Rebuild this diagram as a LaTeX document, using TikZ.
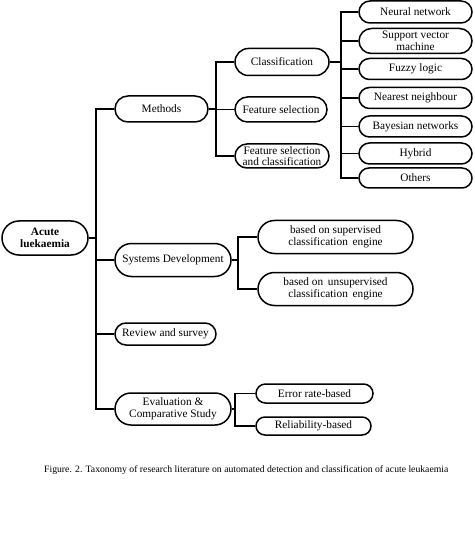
\documentclass[tikz,border=0pt]{standalone}
\usepackage{fontspec}
\setmainfont{Liberation Serif}
\usetikzlibrary{shapes.misc}

\begin{document}
\begin{tikzpicture}[
                x=1pt, y=-1pt,
                box/.style={draw=black, line width=1.5pt, rounded rectangle, inner sep=0pt,
                    align=center, font=\fontsize{11.3}{11.5}\selectfont},
                link/.style={line width=1.5pt} ]

            \useasboundingbox (0,0) rectangle (474,534);

            % root and first level
            \node[box, minimum width=86pt, minimum height=34pt, font=\fontsize{11.3}{11.5}\selectfont\bfseries]
                (root) at (45,238) {Acute\\luekaemia};
            \node[box, minimum width=93pt, minimum height=26pt] (meth) at (161.5,109) {Methods};
            \node[box, minimum width=116pt, minimum height=33pt] (sys) at (173,260) {Systems Development};
            \node[box, minimum width=101pt, minimum height=22pt] (rev) at (165.5,334) {Review and survey};
            \node[box, minimum width=116pt, minimum height=32pt] (eval) at (173,409) {Evaluation \&\\Comparative Study};

            % methods
            \node[box, minimum width=94pt, minimum height=27pt] (cls) at (282,62) {Classification};
            \node[box, minimum width=92pt, minimum height=25pt] (fs) at (281,109.5) {Feature selection};
            \node[box, minimum width=94pt, minimum height=24pt] (fsc) at (282,156) {Feature selection\\and classification};

            % classifiers
            \node[box, minimum width=113pt, minimum height=22pt] (nn) at (415.5,12) {Neural network};
            \node[box, minimum width=113pt, minimum height=25pt] (svm) at (415.5,41) {Support vector\\machine};
            \node[box, minimum width=113pt, minimum height=21pt] (fl) at (415.5,69) {Fuzzy logic};
            \node[box, minimum width=113pt, minimum height=21pt] (nnb) at (415.5,98) {Nearest neighbour};
            \node[box, minimum width=113pt, minimum height=21pt] (bn) at (415.5,126.5) {Bayesian networks};
            \node[box, minimum width=113pt, minimum height=21pt] (hyb) at (415.5,153.5) {Hybrid};
            \node[box, minimum width=113pt, minimum height=20pt] (oth) at (415.5,178) {Others};

            % systems and evaluation
            \node[box, minimum width=155pt, minimum height=33pt] (sup) at (335.5,237) {based on supervised\\classification\, engine};
            \node[box, minimum width=155pt, minimum height=33pt] (uns) at (335.5,289) {based on\, unsupervised\\classification\, engine};
            \node[box, minimum width=117pt, minimum height=19pt] (err) at (314.5,393.5) {Error rate-based};
            \node[box, minimum width=115pt, minimum height=18pt] (rel) at (313.5,426) {Reliability-based};

            \coordinate (j0) at (96,238);
            \coordinate (jm) at (216,109);
            \coordinate (jc) at (341,62);
            \coordinate (js) at (238,260);
            \coordinate (je) at (235,409);

            \draw[link] (root.east) -- (j0);
            \foreach \n in {meth, sys, rev, eval} {
                    \draw[link] (j0) |- (\n.west);
                }
            \draw[link] (meth.east) -- (jm);
            \foreach \n in {cls, fs, fsc} {
                    \draw[link] (jm) |- (\n.west);
                }
            \draw[link] (cls.east) -- (jc);
            \foreach \n in {nn, svm, fl, nnb, bn, hyb, oth} {
                    \draw[link] (jc) |- (\n.west);
                }
            \draw[link] (sys.east) -- (js);
            \foreach \n in {sup, uns} {
                    \draw[link] (js) |- (\n.west);
                }
            \draw[link] (eval.east) -- (je);
            \foreach \n in {err, rel} {
                    \draw[link] (je) |- (\n.west);
                }

            \node[font=\fontsize{9.7}{11}\selectfont, inner sep=0pt, anchor=west] (cap) at (44,470)
                {Figure. 2. Taxonomy of research literature on automated detection and classification of acute leukaemia};

        \end{tikzpicture}
\end{document}
